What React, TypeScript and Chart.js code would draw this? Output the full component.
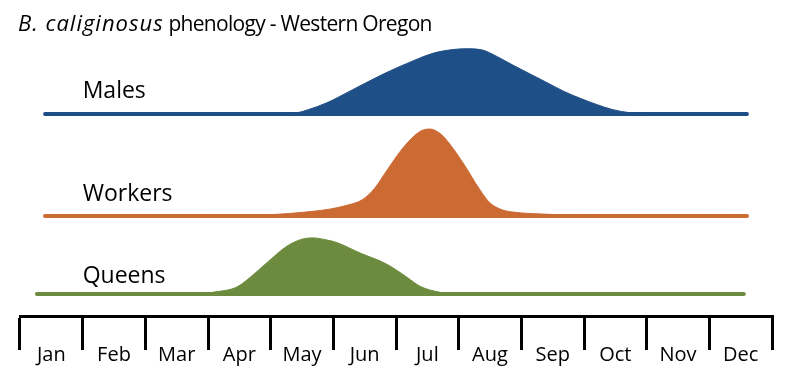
import { useEffect, useRef } from "react";
import { Chart, registerables } from "chart.js";

Chart.register(...registerables);

const FONT = '"Open Sans", "Noto Sans", sans-serif';

const TITLE_ITALIC = "B. caliginosus";
const TITLE_REST = " phenology - Western Oregon";

const MONTHS = ["Jan", "Feb", "Mar", "Apr", "May", "Jun", "Jul", "Aug", "Sep", "Oct", "Nov", "Dec"];

// x = position in months (0 = start of Jan, 12 = end of Dec); y = relative abundance
const MALES_X = [0.4, 4.2, 4.4, 4.6, 4.9, 5.31, 5.8, 6.27, 6.6, 6.9, 7.1, 7.35, 7.6, 7.87, 8.14, 8.41, 8.68, 8.94, 9.2, 9.46, 9.73, 10.05, 11.6];
const MALES_Y = [0, 0, 0.01, 0.05, 0.13, 0.28, 0.46, 0.61, 0.7, 0.74, 0.75, 0.74, 0.665, 0.56, 0.46, 0.36, 0.26, 0.18, 0.11, 0.05, 0.015, 0, 0];

const WORKERS_X = [0.4, 3.6, 4.31, 4.95, 5.2, 5.47, 5.66, 5.86, 6.12, 6.38, 6.54, 6.7, 6.81, 7.07, 7.34, 7.5, 7.7, 7.87, 8.41, 9.0, 11.6];
const WORKERS_Y = [0, 0.005, 0.03, 0.08, 0.12, 0.19, 0.32, 0.53, 0.79, 0.97, 1.0, 0.95, 0.87, 0.61, 0.3, 0.15, 0.07, 0.045, 0.02, 0.005, 0];

const QUEENS_X = [0.27, 2.9, 3.08, 3.46, 3.72, 3.94, 4.26, 4.5, 4.68, 4.9, 5.06, 5.43, 5.86, 6.18, 6.38, 6.7, 7.02, 11.55];
const QUEENS_Y = [0, 0, 0.02, 0.08, 0.22, 0.36, 0.55, 0.63, 0.645, 0.62, 0.59, 0.47, 0.34, 0.19, 0.09, 0.02, 0, 0];

// layout constants (y axis in px-like units, 0 at axis line)
const Y_MAX = 286;
const AMPLITUDE = 87;
const LABEL_MONTH = 1.0;

const ROWS = [
  { name: "Males", xs: MALES_X, ys: MALES_Y, color: "#1f4f87", base: 202, lift: 16 },
  { name: "Workers", xs: WORKERS_X, ys: WORKERS_Y, color: "#cc6a34", base: 100, lift: 15 },
  { name: "Queens", xs: QUEENS_X, ys: QUEENS_Y, color: "#6c8b3e", base: 22, lift: 11 },
];

const textPlugin = {
  id: "texts",
  afterDraw(chart: any) {
    const ctx = chart.ctx;
    ctx.save();
    ctx.fillStyle = "#000";
    ctx.textBaseline = "alphabetic";
    ctx.textAlign = "left";
    ctx.font = `italic 22px ${FONT}`;
    ctx.letterSpacing = "1px";
    ctx.fillText(TITLE_ITALIC, 18, 31);
    const w = ctx.measureText(TITLE_ITALIC).width;
    ctx.font = `21px ${FONT}`;
    ctx.letterSpacing = "-0.7px";
    ctx.fillText(TITLE_REST, 18 + w, 31);
    ctx.letterSpacing = "0px";
    const xs = chart.scales.x;
    const ys = chart.scales.y;
    ctx.font = `23px ${FONT}`;
    ROWS.forEach((r) => {
      ctx.fillText(r.name, xs.getPixelForValue(LABEL_MONTH), ys.getPixelForValue(r.base) - r.lift);
    });
    ctx.restore();
  },
};

export default function App() {
  const ref = useRef<HTMLCanvasElement | null>(null);

  useEffect(() => {
    if (!ref.current) return;
    const datasets: any[] = [];
    ROWS.forEach((r) => {
      datasets.push({
        label: r.name,
        data: r.xs.map((x, i) => ({ x, y: r.base + r.ys[i] * AMPLITUDE })),
        borderColor: r.color,
        backgroundColor: r.color,
        borderWidth: 1,
        pointRadius: 0,
        cubicInterpolationMode: "monotone",
        fill: { value: r.base },
        xAxisID: "x",
        yAxisID: "y",
      });
      datasets.push({
        label: r.name + " baseline",
        data: [
          { x: r.xs[0], y: r.base },
          { x: r.xs[r.xs.length - 1], y: r.base },
        ],
        borderColor: r.color,
        borderWidth: 4,
        borderCapStyle: "round",
        pointRadius: 0,
        fill: false,
        xAxisID: "x",
        yAxisID: "y",
      });
    });

    const chart = new Chart(ref.current, {
      type: "line",
      data: { datasets },
      options: {
        animation: false,
        responsive: false,
        layout: { padding: { left: 20, right: 16, top: 30, bottom: 0 } },
        plugins: { legend: { display: false }, tooltip: { enabled: false }, title: { display: false } },
        scales: {
          x: { type: "linear", min: 0, max: 12, display: false },
          xm: {
            type: "category",
            position: "bottom",
            labels: MONTHS,
            offset: true,
            afterFit: (s: any) => {
              s.height = 68;
            },
            grid: {
              offset: true,
              drawOnChartArea: false,
              drawTicks: true,
              tickLength: 34,
              lineWidth: 3,
              color: "#000",
            },
            border: { display: true, color: "#000", width: 3 },
            ticks: {
              color: "#000",
              font: { family: FONT, size: 20 },
              padding: -7,
              autoSkip: false,
              maxRotation: 0,
            },
          },
          y: { type: "linear", min: 0, max: Y_MAX, display: false },
        },
      },
      plugins: [textPlugin],
    });
    return () => chart.destroy();
  }, []);

  return (
    <div style={{ position: "fixed", left: 0, top: 0, width: 788, height: 384, background: "#fff" }}>
      <canvas ref={ref} width={788} height={384} style={{ display: "block" }} />
    </div>
  );
}
